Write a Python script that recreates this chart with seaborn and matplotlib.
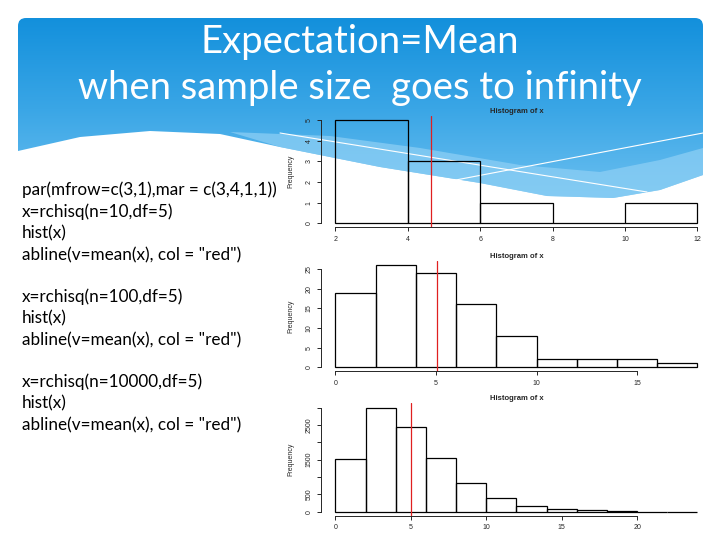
import numpy as np
import seaborn as sns
import matplotlib.pyplot as plt
from matplotlib.path import Path
from matplotlib.patches import PathPatch, Polygon

# histogram data (bin edges and counts)
edges_n10 = [2, 4, 6, 8, 10, 12]
counts_n10 = [5, 3, 1, 0, 1]
mean_n10 = 4.64

edges_n100 = [0, 2, 4, 6, 8, 10, 12, 14, 16, 18]
counts_n100 = [19, 26, 24, 16, 8, 2, 2, 2, 1]
mean_n100 = 5.05

edges_n10000 = [0, 2, 4, 6, 8, 10, 12, 14, 16, 18, 20, 22, 24]
counts_n10000 = [1530, 2985, 2430, 1540, 815, 410, 180, 80, 45, 20, 5, 2]
mean_n10000 = 5.0

title_lines = ['Expectation=Mean', 'when sample size  goes to infinity']
code_blocks = [
    ['par(mfrow=c(3,1),mar = c(3,4,1,1))', 'x=rchisq(n=10,df=5)', 'hist(x)',
     'abline(v=mean(x), col = "red")'],
    ['x=rchisq(n=100,df=5)', 'hist(x)', 'abline(v=mean(x), col = "red")'],
    ['x=rchisq(n=10000,df=5)', 'hist(x)', 'abline(v=mean(x), col = "red")'],
]

sns.set_style('white')
plt.rcParams['font.family'] = ['Lato', 'DejaVu Sans']

fig = plt.figure(figsize=(7.2, 5.4), dpi=100)

# slide background in pixel coordinates
bg = fig.add_axes([0, 0, 1, 1])
bg.set_xlim(0, 720)
bg.set_ylim(540, 0)
bg.axis('off')

# banner outline: rounded top corners, wavy bottom
bottom = [(703, 175), (660, 190), (613, 198), (547, 196), (480, 183), (380, 167),
          (280, 147), (220, 134), (150, 131), (80, 137), (18, 151)]
verts = [(18, 26), (18, 18), (26, 18), (695, 18), (703, 18), (703, 26)] + bottom + [(18, 26)]
codes = [Path.MOVETO, Path.CURVE3, Path.CURVE3, Path.LINETO, Path.CURVE3, Path.CURVE3] + \
        [Path.LINETO] * len(bottom) + [Path.CLOSEPOLY]
banner = PathPatch(Path(verts, codes), facecolor='none', edgecolor='none')
bg.add_patch(banner)
grad = np.linspace(0, 1, 256).reshape(-1, 1)
cmap = sns.blend_palette(['#1390dc', '#3aa6e6', '#6cc0f0'], as_cmap=True)
img = bg.imshow(grad, cmap=cmap, extent=(18, 703, 200, 18), aspect='auto', zorder=0)
img.set_clip_path(banner)

# lighter wave band
band = Polygon([(230, 132), (330, 136), (420, 148), (520, 165), (600, 172), (660, 160),
                (703, 148), (703, 175), (660, 190), (613, 198), (547, 196), (480, 183),
                (380, 167), (280, 147)], closed=True, facecolor='#8fd0f5', edgecolor='none',
               alpha=0.7, zorder=1)
bg.add_patch(band)
bg.plot([280, 647], [133, 192], color='white', lw=0.8, zorder=2)
bg.plot([440, 703], [183, 133], color='white', lw=0.8, zorder=2)

for i, line in enumerate(title_lines):
    bg.text(360, 42 + i * 46, line, ha='center', va='center', color='white',
            fontsize=27.5, zorder=3)

y = 190
for block in code_blocks:
    for line in block:
        bg.text(22, y, line, ha='left', va='center', color='black', fontsize=12.3, zorder=3)
        y += 21.7
    y += 20

# the three R style histograms
panels = [
    (edges_n10, counts_n10, mean_n10, [0.4458, 0.5789, 0.543, 0.2067],
     [0, 1, 2, 3, 4, 5], None, (-0.2, 5.2), [2, 4, 6, 8, 10, 12]),
    (edges_n100, counts_n100, mean_n100, [0.4458, 0.3122, 0.543, 0.2044],
     [0, 5, 10, 15, 20, 25], None, (-1.04, 27.04), [0, 5, 10, 15]),
    (edges_n10000, counts_n10000, mean_n10000, [0.4458, 0.0446, 0.543, 0.2083],
     [0, 500, 1000, 1500, 2000, 2500, 3000], ['0', '500', '', '1500', '', '2500', ''],
     (-120, 3120), [0, 5, 10, 15, 20]),
]

for edges, counts, mean, rect, yticks, ylabels, ylim, xticks in panels:
    ax = fig.add_axes(rect)
    ax.patch.set_alpha(0)
    centers = [(a + b) / 2 for a, b in zip(edges[:-1], edges[1:])]
    sns.histplot(ax=ax, x=centers, weights=counts, bins=edges, fill=False,
                 color='black', linewidth=0.9)
    ax.axvline(mean, color='#e02020', lw=0.9)
    span = edges[-1] - edges[0]
    ax.set_xlim(edges[0] - 0.04 * span, edges[-1] + 0.04 * span)
    ax.set_ylim(*ylim)
    ax.set_xticks(xticks)
    ax.set_yticks(yticks)
    if ylabels is not None:
        ax.set_yticklabels(ylabels)
    for s in ['top', 'right']:
        ax.spines[s].set_visible(False)
    ax.spines['left'].set_bounds(yticks[0], yticks[-1])
    ax.spines['bottom'].set_bounds(xticks[0], xticks[-1])
    for s in ['left', 'bottom']:
        ax.spines[s].set_linewidth(0.7)
    ax.tick_params(axis='both', length=3, width=0.7, labelsize=5, pad=3, direction='out',
                   left=True, bottom=True)
    ax.tick_params(axis='y', labelrotation=90)
    for lab in ax.get_xticklabels() + ax.get_yticklabels():
        lab.set_family('Liberation Sans')
    for lab in ax.get_yticklabels():
        lab.set_verticalalignment('center')
    ax.set_xlabel('')
    ax.set_ylabel('Frequency', fontsize=5, family='Liberation Sans', labelpad=8)
    ax.text(0.5, 1.01, 'Histogram of x', transform=ax.transAxes, ha='center', va='bottom',
            fontsize=5.5, fontweight='bold', family='Liberation Sans')

fig.savefig('out.png', dpi=100)
